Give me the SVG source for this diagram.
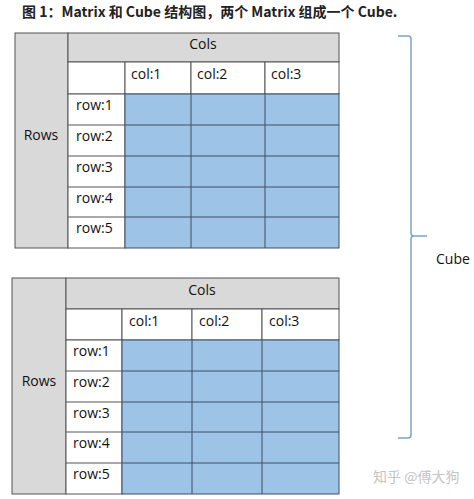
<svg xmlns="http://www.w3.org/2000/svg" width="474" height="499" viewBox="0 0 474 499">
<style>
.t{font-family:"Open Sans","Liberation Sans",sans-serif;font-size:14px;fill:#111}
.g{fill:#d9d9d9;stroke:#555;stroke-width:1}
.w{fill:#fff;stroke:#555;stroke-width:1}
.b{fill:#9dc3e6;stroke:#3f4f66;stroke-width:1}
.title{font-family:"Noto Sans CJK SC","Noto Sans",sans-serif;font-size:14px;font-weight:bold;fill:#222}
.wm{font-family:"Noto Sans CJK SC",sans-serif;font-size:14px;fill:#c4c4c4}
.br{fill:none;stroke:#7fa3c8;stroke-width:1.5}
</style>
<rect width="474" height="499" fill="#fff"/>
<text class="title" x="22" y="17">图 1：Matrix 和 Cube 结构图，两个 Matrix 组成一个 Cube.</text>

<g id="matrix1">
<rect class="g" x="15" y="33" width="53" height="215"/>
<rect class="g" x="68" y="33" width="271" height="29"/>
<rect class="w" x="68" y="62" width="57" height="32"/>
<rect class="w" x="125" y="62" width="66" height="32"/>
<rect class="w" x="191" y="62" width="74" height="32"/>
<rect class="w" x="265" y="62" width="74" height="32"/>
<rect class="w" x="68" y="94" width="57" height="154"/>
<rect class="b" x="125" y="94" width="214" height="154"/>
<path d="M191 94V248M265 94V248M125 125H339M125 156H339M125 187H339M125 217H339" stroke="#3f4f66" stroke-width="1"/>
<path d="M68 125H125M68 156H125M68 187H125M68 217H125" stroke="#555" stroke-width="1"/>
<text class="t" x="203" y="49" text-anchor="middle">Cols</text>
<text class="t" x="41" y="140" text-anchor="middle">Rows</text>
<text class="t" x="131" y="79">col:1</text>
<text class="t" x="197" y="79">col:2</text>
<text class="t" x="271" y="79">col:3</text>
<text class="t" x="76" y="110">row:1</text>
<text class="t" x="76" y="141">row:2</text>
<text class="t" x="76" y="172">row:3</text>
<text class="t" x="76" y="203">row:4</text>
<text class="t" x="76" y="233">row:5</text>
</g>

<g id="matrix2">
<rect class="g" x="12" y="278" width="54" height="216"/>
<rect class="g" x="66" y="278" width="273" height="31"/>
<rect class="w" x="66" y="309" width="56" height="31"/>
<rect class="w" x="122" y="309" width="70" height="31"/>
<rect class="w" x="192" y="309" width="70" height="31"/>
<rect class="w" x="262" y="309" width="77" height="31"/>
<rect class="w" x="66" y="340" width="56" height="154"/>
<rect class="b" x="122" y="340" width="217" height="154"/>
<path d="M192 340V494M262 340V494M122 371H339M122 402H339M122 432H339M122 463H339" stroke="#3f4f66" stroke-width="1"/>
<path d="M66 371H122M66 402H122M66 432H122M66 463H122" stroke="#555" stroke-width="1"/>
<text class="t" x="202" y="295" text-anchor="middle">Cols</text>
<text class="t" x="39" y="386" text-anchor="middle">Rows</text>
<text class="t" x="129" y="326">col:1</text>
<text class="t" x="199" y="326">col:2</text>
<text class="t" x="269" y="326">col:3</text>
<text class="t" x="73" y="356">row:1</text>
<text class="t" x="73" y="387">row:2</text>
<text class="t" x="73" y="418">row:3</text>
<text class="t" x="73" y="448">row:4</text>
<text class="t" x="73" y="479">row:5</text>
</g>

<g id="connectors">
<path class="br" d="M398 36H408Q411 36 411 39V233Q411 236 414 236H427M414 236Q411 236 411 239V435Q411 438 408 438H398"/>
</g>
<g id="cube"><text class="t" x="436" y="264">Cube</text></g>
<text class="wm" x="373" y="482">知乎 @傅大狗</text>
</svg>
